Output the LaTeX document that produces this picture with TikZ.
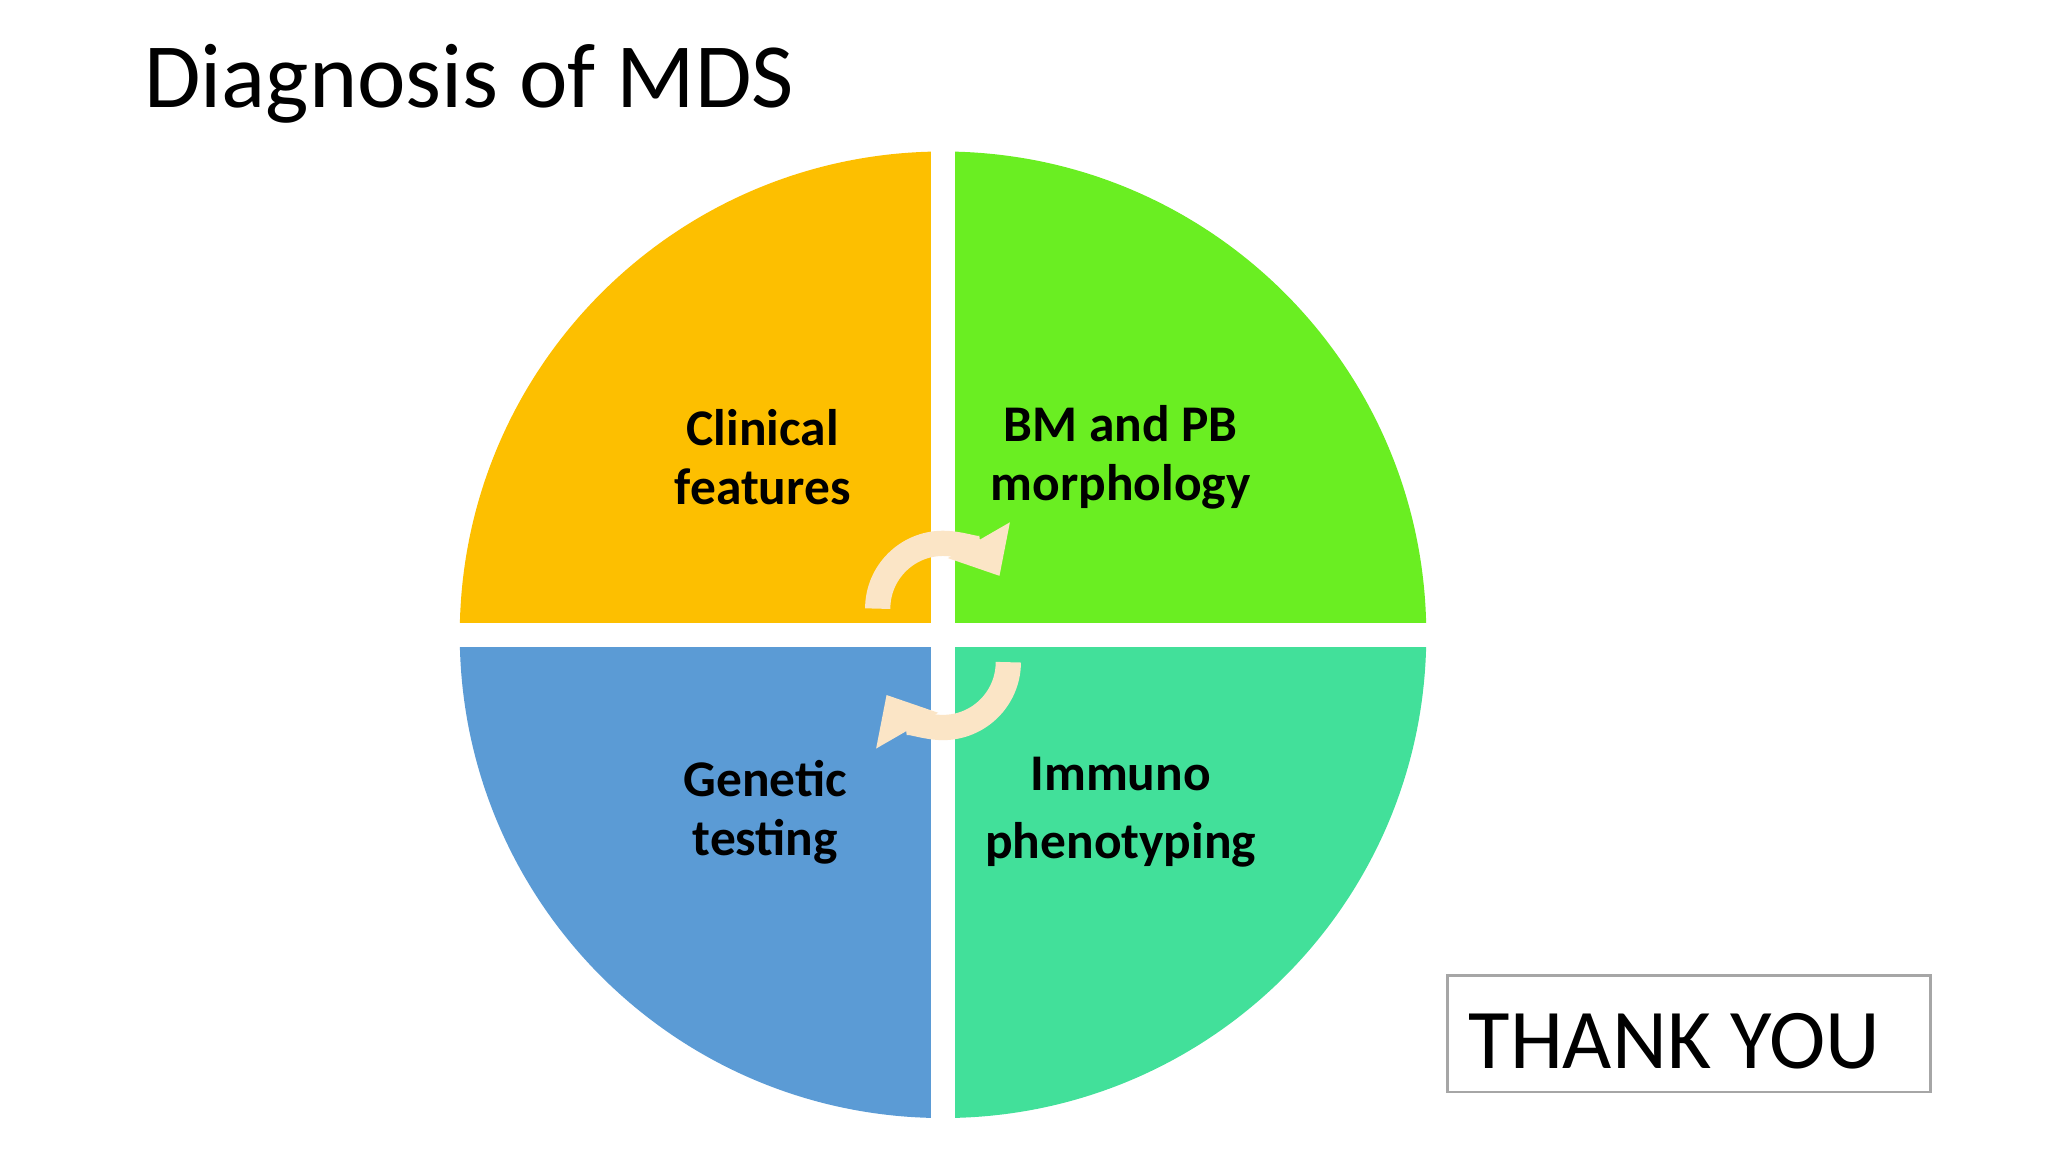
\documentclass[tikz,border=0pt]{standalone}
\usepackage{fontspec}
\setmainfont{Carlito}
\usetikzlibrary{arrows.meta}
\definecolor{qor}{HTML}{FDBF00}
\definecolor{qgr}{HTML}{6AEE22}
\definecolor{qbl}{HTML}{5B9BD5}
\definecolor{qte}{HTML}{42E09A}
\definecolor{cream}{HTML}{FBE5C6}
\tikzset{lbl/.style={font=\bfseries\fontsize{11.2}{12.8}\selectfont,align=center,text=black},
 cyc/.style={draw=cream,line width=5.5pt,-{Triangle[length=9pt,width=15pt]}}}
\begin{document}
\begin{tikzpicture}[x=0.01cm,y=0.01cm]
\useasboundingbox (0,0) rectangle (1568,-882);
\coordinate (c) at (722,-486);
\fill[qor] (c) -- ++(-370,0) arc[start angle=180,end angle=90,radius=370] -- cycle;
\fill[qgr] (c) -- ++(0,370) arc[start angle=90,end angle=0,radius=370] -- cycle;
\fill[qte] (c) -- ++(370,0) arc[start angle=0,end angle=-90,radius=370] -- cycle;
\fill[qbl] (c) -- ++(0,-370) arc[start angle=-90,end angle=-180,radius=370] -- cycle;
\fill[white] (713,-100) rectangle (731,-870);
\fill[white] (340,-477) rectangle (1105,-495);
\draw[cyc] (672,-466) arc[start angle=180,end angle=30,radius=50];
\draw[cyc] (772,-507) arc[start angle=0,end angle=-150,radius=50];
\node[lbl] (cf) at (584,-350) {Clinical\\features};
\node[lbl] (bm) at (858,-350) {BM and PB\\morphology};
\node[lbl] (gt) at (586,-622) {Genetic\\testing};
\node[lbl] (im) at (858,-622) {Immuno\\[2pt]phenotyping};
\node[anchor=west,font=\fontsize{20}{24}\selectfont] (t) at (98,-64) {Diagnosis of MDS};
\node[draw=gray!70,line width=0.6pt,minimum width=3.7cm,minimum height=0.89cm,anchor=north west,inner sep=0pt] (ty) at (1107,-746) {};
\node[anchor=west,font=\fontsize{18.5}{22}\selectfont] (tyt) at (1112,-797) {THANK YOU};
\end{tikzpicture}
\end{document}
